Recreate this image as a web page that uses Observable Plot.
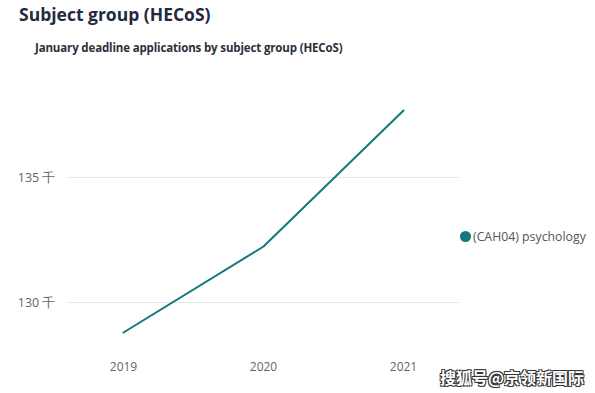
<!DOCTYPE html>
<html>
<head>
<meta charset="utf-8">
<script src="https://cdn.jsdelivr.net/npm/d3@7"></script>
<script src="https://cdn.jsdelivr.net/npm/@observablehq/plot@0.6"></script>
<style>
  html, body { margin: 0; padding: 0; background: #fff; }
  #wrap { position: relative; width: 595px; height: 393px; overflow: hidden; font-family: "Open Sans", sans-serif; }
  #chart { position: absolute; left: 0; top: 0; }
  .title { position: absolute; left: 19px; top: 2px; font-size: 17.5px; font-weight: 700; color: #232a3d; white-space: nowrap; }
  .subtitle { position: absolute; left: 35px; top: 40px; font-size: 11.5px; font-weight: 700; color: #2c2f3a; white-space: nowrap; letter-spacing: -0.15px; }
  .legend { position: absolute; left: 460px; top: 228px; font-size: 12.3px; color: #555; white-space: nowrap; display: flex; align-items: center; }
  .legend .dot { width: 11px; height: 11px; border-radius: 50%; background: #10797b; margin-right: 2px; }
  .wm { position: absolute; left: 440px; top: 365px; font-family: "Noto Sans CJK SC", sans-serif; font-size: 16px; font-weight: 700; color: #fff; white-space: nowrap;
        text-shadow: -1px -1px 0 #333, 1px -1px 0 #333, -1px 1px 0 #333, 1px 1px 0 #333; }
</style>
</head>
<body>
<div id="wrap">
  <div id="chart"></div>
  <div class="title">Subject group (HECoS)</div>
  <div class="subtitle">January deadline applications by subject group (HECoS)</div>
  <div class="legend"><span class="dot"></span><span>(CAH04) psychology</span></div>
  <div class="wm">搜狐号@京领新国际</div>
</div>
<script>
const years = [2019, 2020, 2021];
const applications = [128800, 132240, 137680];
const seriesName = "(CAH04) psychology";
const yTicks = [130000, 135000];

const data = years.map((y, i) => ({year: y, value: applications[i], series: seriesName}));

const chart = Plot.plot({
  width: 595,
  height: 393,
  marginLeft: 67,
  marginRight: 136,
  marginTop: 90,
  marginBottom: 48,
  style: {background: "transparent", fontFamily: "Open Sans, sans-serif"},
  x: {type: "linear", domain: [2018.6, 2021.4], label: null},
  y: {domain: [128280, 138480], label: null},
  marks: [
    Plot.gridY(yTicks, {stroke: "#e6e6e6", strokeOpacity: 1, strokeWidth: 1}),
    Plot.axisX({ticks: years, tickFormat: d => String(d), tickSize: 0, tickPadding: 17, fill: "#666", fontSize: 12, label: null}),
    Plot.axisY({ticks: yTicks, tickFormat: d => (d / 1000) + " 千", tickSize: 0, tickPadding: 12, fill: "#666", fontSize: 12.5, label: null}),
    Plot.line(data, {x: "year", y: "value", stroke: "#10797b", strokeWidth: 2})
  ]
});
document.getElementById("chart").appendChild(chart);
</script>
</body>
</html>
